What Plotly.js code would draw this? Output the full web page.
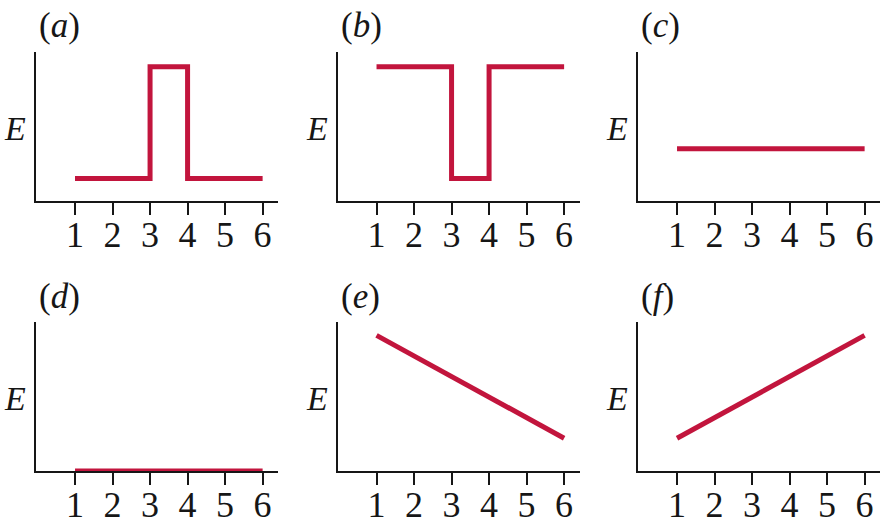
<!DOCTYPE html>
<html>
<head>
<meta charset="utf-8">
<script src="https://cdn.plot.ly/plotly-3.0.1.min.js"></script>
<style>
html, body { margin: 0; padding: 0; background: #fff; }
#chart { width: 880px; height: 528px; }
</style>
</head>
<body>
<div id="chart"></div>
<script>
// values (E in arbitrary units, axis 0..10)
const panelLabels = ['a', 'b', 'c', 'd', 'e', 'f'];
const tickValues = [1, 2, 3, 4, 5, 6];
const tickLabels = ['1', '2', '3', '4', '5', '6'];

const aX = [1, 3, 3, 4, 4, 6];
const aE = [1.5, 1.5, 9, 9, 1.5, 1.5];
const bX = [1, 3, 3, 4, 4, 6];
const bE = [9, 9, 1.5, 1.5, 9, 9];
const cX = [1, 6];
const cE = [3.5, 3.5];
const dX = [1, 6];
const dE = [0, 0];
const eX = [1, 6];
const eE = [9.1, 2.2];
const fX = [1, 6];
const fE = [2.2, 9.1];

const series = [[aX, aE], [bX, bE], [cX, cE], [dX, dE], [eX, eE], [fX, fE]];

const W = 880, H = 528;
const RED = '#c2153d';
const INK = '#161616';
const SERIF = 'Liberation Serif';

// pixel boxes of the plot areas
const colLeft = [36, 337.5, 638];
const colWidth = 242;
const rowTop = [52, 322];
const rowBottom = [200.7, 471];

const px = (x) => x / W;
const py = (y) => 1 - y / H;

const traces = [];
const layout = {
    width: W,
    height: H,
    margin: {l: 0, r: 0, t: 0, b: 0},
    paper_bgcolor: '#fff',
    plot_bgcolor: 'rgba(0,0,0,0)',
    showlegend: false,
    annotations: []
};

for (let i = 0; i < 6; i++) {
    const col = i % 3;
    const row = Math.floor(i / 3);
    const n = i + 1;
    const xd = [px(colLeft[col]), px(colLeft[col] + colWidth)];
    const yd = [py(rowBottom[row]), py(rowTop[row])];
    const xRange = [-0.04, 6.41];

    traces.push({
        x: series[i][0],
        y: series[i][1],
        xaxis: 'x' + n,
        yaxis: 'y' + n,
        type: 'scatter',
        mode: 'lines',
        cliponaxis: false,
        line: {color: RED, width: 5},
        hoverinfo: 'skip'
    });

    layout['xaxis' + n] = {
        domain: xd,
        anchor: 'y' + n,
        range: xRange,
        showline: true,
        linecolor: INK,
        linewidth: 2,
        showgrid: false,
        zeroline: false,
        tickmode: 'array',
        tickvals: tickValues,
        ticktext: tickLabels,
        ticks: 'outside',
        ticklen: 12,
        tickwidth: 2,
        tickcolor: INK,
        ticklabelstandoff: -11,
        tickfont: {family: SERIF, size: 36, color: INK},
        layer: 'below traces',
        fixedrange: true
    };
    // second axis on top: the upper half of each crossing tick
    layout['xaxis' + (n + 6)] = {
        domain: xd,
        anchor: 'y' + n,
        overlaying: 'x' + n,
        range: xRange,
        showline: false,
        showgrid: false,
        zeroline: false,
        tickmode: 'array',
        tickvals: tickValues,
        showticklabels: false,
        ticks: 'inside',
        ticklen: 13,
        tickwidth: 2,
        tickcolor: INK,
        layer: 'above traces',
        fixedrange: true
    };
    layout['yaxis' + n] = {
        domain: yd,
        anchor: 'x' + n,
        range: [0, 10],
        showline: true,
        linecolor: INK,
        linewidth: 2,
        showgrid: false,
        zeroline: false,
        ticks: '',
        showticklabels: false,
        fixedrange: true
    };

    layout.annotations.push({
        text: '(<i>' + panelLabels[i] + '</i>)',
        xref: 'paper', yref: 'paper',
        x: px(colLeft[col] + 1), y: py(rowTop[row] - 26),
        xanchor: 'left', yanchor: 'middle',
        showarrow: false,
        font: {family: SERIF, size: 35, color: INK}
    });
    layout.annotations.push({
        text: '<i>E</i>',
        xref: 'paper', yref: 'paper',
        x: px(colLeft[col] - 8), y: py((rowTop[row] + rowBottom[row]) / 2 + 2),
        xanchor: 'right', yanchor: 'middle',
        showarrow: false,
        font: {family: SERIF, size: 34, color: INK}
    });
}

Plotly.newPlot('chart', traces, layout, {staticPlot: true, displayModeBar: false});
</script>
</body>
</html>
